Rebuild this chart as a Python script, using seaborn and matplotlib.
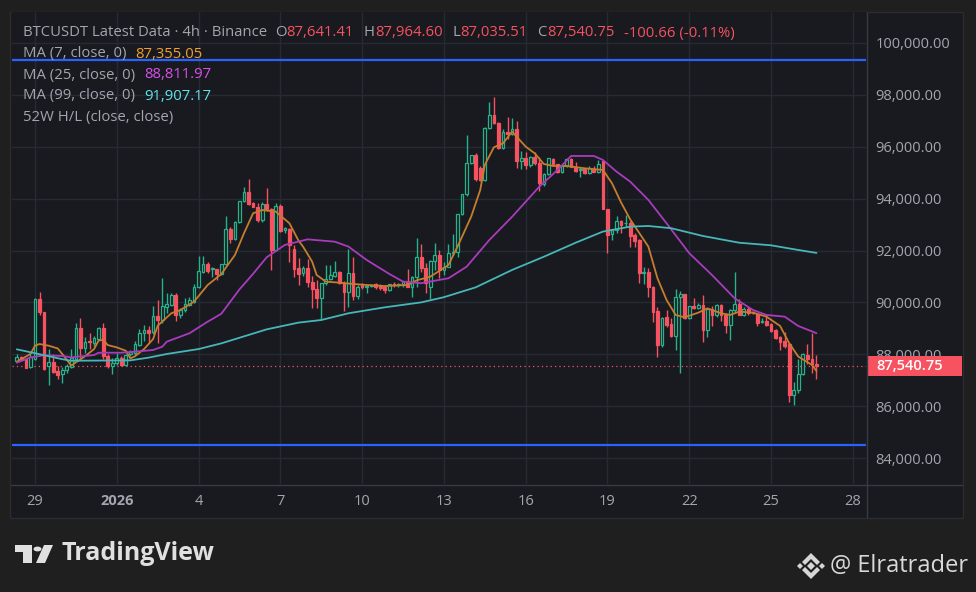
import numpy as np
import pandas as pd
import seaborn as sns
import matplotlib.pyplot as plt
import matplotlib.transforms as mtransforms
from matplotlib.patches import Rectangle, Polygon, Circle
from matplotlib.lines import Line2D

# 4h candles, BTCUSDT, Dec 28 08:00 -> Jan 26 16:00
opens = [87730, 87880, 87815, 87495, 87815, 90130, 89615, 87535, 87690, 87365,
         87240, 87380, 87495, 87815, 89000, 88225, 88510, 88435, 88585, 89000,
         87920, 87535, 87660, 87855, 87595, 87995, 88045, 88370, 88820, 88945,
         88845, 89490, 89320, 89835, 89900, 90285, 89515, 89705, 89900, 90030,
         90580, 91185, 91465, 91285, 91290, 91085, 91465, 92815, 92445, 93085,
         93910, 94245, 93845, 93690, 93175, 93780, 93590, 92020, 93715, 92790,
         92815, 92060, 91315, 91120, 91315, 90775, 90515, 90155, 90735, 90890,
         91015, 91170, 90760, 90415, 91120, 90245, 90660, 90605, 90645, 90695,
         90645, 90605, 90480, 90695, 90660, 90710, 90825, 90610, 90990, 91740,
         91340, 90580, 91610, 91825, 91250, 91380, 91890, 91960, 93410, 94180,
         95360, 95680, 95200, 94720, 96710, 97225, 96930, 95940, 96580, 96490,
         96670, 95465, 95555, 95295, 95620, 95360, 94565, 94935, 95515, 95335,
         95040, 95260, 95530, 95235, 95105, 95145, 94975, 95145, 95040, 95465,
         93615, 92635, 92790, 93150, 93050, 93075, 92600, 92405, 91145, 91185,
         90605, 89670, 88360, 89425, 89170, 88705, 90220, 90310, 89385, 89860,
         89770, 89900, 88935, 89735, 89515, 89900, 89515, 89130, 89710, 89940,
         89515, 89735, 89620, 89555, 89230, 89295, 89170, 88935, 88655, 88525,
         88400, 86430, 86625, 87240, 87975, 87805, 87641.41]
highs = [88000, 87945, 87865, 88075, 90170, 90385, 89615, 88200, 88010, 87535,
         87495, 87625, 88200, 89205, 89385, 88650, 88820, 88690, 89060, 89205,
         88010, 87840, 88045, 87920, 88010, 88150, 88525, 88975, 89125, 89100,
         89870, 90095, 90940, 90350, 90350, 90350, 89770, 90185, 90220, 90710,
         91790, 91790, 91570, 91350, 91300, 91465, 93330, 92895, 93140, 93920,
         94460, 94760, 93860, 93845, 93860, 94425, 93625, 93820, 93780, 92920,
         92855, 92215, 91700, 91400, 91660, 91020, 90865, 90735, 91440, 91440,
         91595, 91210, 90825, 92045, 91740, 90670, 90735, 90670, 90710, 90760,
         90695, 90670, 90710, 90800, 90760, 90825, 91275, 91020, 92470, 92250,
         91505, 91635, 92275, 92020, 91570, 92250, 92640, 93410, 94180, 96455,
         95680, 95770, 95260, 96750, 97740, 97905, 96965, 96670, 97160, 97095,
         97005, 95835, 95810, 95645, 95810, 95620, 94975, 95555, 95555, 95335,
         95295, 95555, 95555, 95425, 95205, 95170, 95260, 95260, 95490, 95490,
         93615, 92815, 93330, 93175, 93370, 93150, 92665, 92430, 91380, 91315,
         90635, 89835, 89425, 89710, 89385, 90505, 90455, 90325, 89860, 90155,
         89990, 90285, 89735, 89860, 89940, 89940, 89580, 89735, 91185, 90120,
         89835, 89810, 89670, 89605, 89385, 89555, 89220, 88960, 88705, 88870,
         88425, 86945, 87805, 88065, 88400, 88810, 87964.60]
lows = [87690, 87740, 87455, 87455, 87775, 89525, 87405, 86815, 87275, 87045,
        86880, 87275, 87455, 87775, 87840, 88045, 88200, 88330, 88560, 87815,
        87455, 87240, 87585, 87560, 87560, 87945, 87970, 88330, 88525, 88420,
        88780, 88450, 89195, 89580, 89860, 89295, 89410, 89645, 89875, 89990,
        90545, 91145, 91120, 90990, 90865, 91045, 91440, 92275, 92405, 93050,
        93885, 93770, 93665, 93110, 93110, 93535, 91250, 91980, 92725, 92665,
        91570, 90965, 90670, 91020, 90605, 89770, 89770, 89320, 90670, 90865,
        90965, 90710, 89680, 89835, 90095, 90120, 90505, 90375, 90580, 90530,
        90480, 90375, 90455, 90580, 90605, 90605, 90580, 90220, 90580, 91185,
        90350, 90120, 91250, 90930, 91055, 91380, 91825, 91760, 93370, 94100,
        95335, 94695, 94695, 94695, 96670, 96880, 95900, 95900, 96285, 96455,
        95170, 95130, 95130, 95235, 95295, 94305, 94485, 94900, 95260, 95000,
        95000, 95235, 95205, 95040, 94845, 94950, 94950, 95015, 95000, 93590,
        91890, 92405, 92690, 92690, 92920, 92150, 92150, 90760, 90695, 90220,
        89260, 87885, 88295, 89040, 88655, 88165, 87265, 89350, 89350, 89735,
        89735, 88485, 88655, 89090, 89450, 89295, 88835, 88550, 89605, 89515,
        89475, 89515, 89555, 89090, 89195, 89090, 88870, 88575, 88165, 88230,
        86175, 86045, 86495, 87200, 87625, 87290, 87035.51]
closes = [87880, 87790, 87480, 87905, 90130, 89615, 87430, 87690, 87330, 87210,
          87405, 87535, 87855, 89000, 88225, 88460, 88485, 88615, 89010, 87920,
          87535, 87660, 87855, 87595, 87970, 88100, 88395, 88820, 88945, 88820,
          89490, 89335, 89860, 89940, 90285, 89515, 89705, 89925, 90095, 90580,
          91210, 91465, 91225, 91300, 91085, 91465, 92815, 92445, 93085, 93910,
          94245, 93795, 93690, 93175, 93780, 93590, 92020, 93715, 92765, 92855,
          92215, 91300, 91095, 91315, 90775, 90505, 90155, 90735, 90890, 91055,
          91185, 90760, 90415, 91120, 90245, 90580, 90605, 90645, 90670, 90580,
          90570, 90480, 90695, 90660, 90710, 90825, 90605, 90990, 91740, 91340,
          90735, 91610, 91825, 91250, 91380, 91890, 91960, 93410, 94180, 95360,
          95680, 94745, 94720, 96710, 97225, 96905, 95940, 96580, 96490, 96670,
          95465, 95555, 95295, 95620, 95360, 94590, 94935, 95555, 95335, 95040,
          95260, 95530, 95235, 95065, 95145, 94975, 95170, 95040, 95335, 93615,
          92600, 92790, 93140, 92985, 93075, 92575, 92380, 91120, 91185, 90605,
          89645, 88360, 89385, 89130, 88705, 90220, 90310, 89385, 89860, 89770,
          89900, 88935, 89735, 89515, 89900, 89515, 89130, 89710, 89940, 89515,
          89735, 89580, 89580, 89220, 89285, 89130, 88910, 88615, 88485, 88335,
          86430, 86625, 87240, 88010, 87805, 87641.41, 87540.75]

# moving averages (candle index, value)
ma7_idx = [0, 1, 3, 4, 5, 7, 9, 10, 12, 13, 15, 17, 18, 19, 20, 22, 24, 25, 26, 28,
           30, 31, 34, 36, 39, 42, 45, 48, 50, 52, 54, 57, 60, 62, 63, 65, 66, 68, 71, 74,
           77, 81, 86, 88, 91, 95, 97, 100, 102, 103, 105, 107, 109, 110, 112, 114, 116, 118, 121, 125,
           129, 131, 133, 135, 139, 141, 143, 145, 147, 150, 152, 155, 157, 159, 162, 165, 168, 170, 172, 175,
           176]
ma7_val = [87715, 87815, 88010, 88330, 88395, 88330, 88225, 88010, 87560, 87690,
           87920, 88200, 88525, 88560, 88355, 88265, 88135, 87840, 87920, 88200,
           88585, 89100, 89580, 89705, 90030, 90670, 91090, 91825, 92665, 93435,
           93560, 93500, 93050, 92380, 92150, 91570, 91055, 90800, 90760, 90710,
           90670, 90630, 90670, 90850, 90990, 91440, 92150, 93305, 94335, 95300,
           95980, 96130, 96580, 96390, 96005, 95745, 95335, 95260, 95260, 95170,
           95105, 94590, 93850, 93200, 92150, 90930, 90095, 89515, 89425, 89605,
           89770, 89580, 89515, 89645, 89605, 89450, 89090, 88425, 87910, 87590,
           87355.05]
ma25_idx = [0, 3, 6, 10, 12, 17, 18, 23, 28, 30, 32, 33, 38, 42, 45, 49, 52, 55, 59, 64,
            70, 73, 77, 82, 85, 89, 95, 99, 104, 109, 115, 119, 122, 127, 129, 132, 135, 139, 143, 148,
            153, 158, 162, 165, 169, 172, 176]
ma25_val = [87675, 87880, 87960, 87935, 87880, 87970, 88060, 88060, 88130, 88165,
            88290, 88485, 88810, 89255, 89560, 90500, 91100, 91740, 92215, 92430,
            92340, 92150, 91635, 91095, 90800, 90740, 90930, 91375, 92405, 93300,
            94460, 95105, 95645, 95645, 95490, 95040, 94655, 93950, 93050, 91895,
            91055, 90155, 89710, 89515, 89450, 89090, 88811.97]
ma99_idx = [0, 4, 10, 12, 25, 29, 33, 40, 45, 55, 62, 67, 73, 81, 89, 94, 101, 109, 116, 123,
            129, 135, 139, 144, 151, 159, 166, 172, 176]
ma99_val = [88190, 88040, 87810, 87750, 87765, 87870, 88010, 88200, 88420, 88960,
            89220, 89320, 89580, 89810, 90000, 90200, 90580, 91250, 91760, 92300,
            92730, 92920, 92945, 92860, 92560, 92300, 92200, 92020, 91907.17]

high_52w = 99345
low_52w = 84495

day_ticks = [4, 22, 40, 58, 76, 94, 112, 130, 148, 166, 184]
day_labels = ["29", "2026", "4", "7", "10", "13", "16", "19", "22", "25", "28"]
price_ticks = list(range(84000, 100001, 2000))

W, H = 976, 592
BG = "#1f1f1f"
PANEL = "#181a20"
GRID = "#262a33"
EDGE = "#363a45"
TXT = "#a3a6af"
UP = "#26b28a"
DOWN = "#f7525f"
MA_COLORS = {"MA7": "#c67d2e", "MA25": "#a83cbc", "MA99": "#47b6b8"}

sns.set_theme(style="dark", rc={"axes.facecolor": PANEL, "figure.facecolor": BG})
plt.rcParams["font.family"] = ["Open Sans", "DejaVu Sans"]

fig = plt.figure(figsize=(W / 100, H / 100), dpi=100)
fig.patch.set_facecolor(BG)


def fx(x):
    return x / W


def fy(y):
    return 1 - y / H


fig.patches.append(Rectangle((fx(10), fy(518)), 953 / W, 506 / H, transform=fig.transFigure,
                             facecolor=PANEL, edgecolor="#2c2c2e", lw=1, zorder=-5))

ax = fig.add_axes([fx(12), fy(484), 854 / W, 472 / H])
ax.set_facecolor(PANEL)

# candles
candles = pd.DataFrame({"open": opens, "high": highs, "low": lows, "close": closes})
candles["idx"] = np.arange(len(candles))
candles["up"] = candles["close"] >= candles["open"]
candles["bottom"] = candles[["open", "close"]].min(axis=1)
candles["body"] = (candles["close"] - candles["open"]).abs().clip(lower=25)
for is_up, color, fill in [(True, UP, PANEL), (False, DOWN, DOWN)]:
    part = candles[candles["up"] == is_up]
    ax.vlines(part["idx"], part["low"], part["high"], color=color, lw=1, zorder=3)
    ax.bar(part["idx"], part["body"], bottom=part["bottom"], width=0.6,
           facecolor=fill, edgecolor=color, lw=0.9, zorder=4)

# moving averages
ma_long = pd.concat([
    pd.DataFrame({"idx": ma7_idx, "value": ma7_val, "ma": "MA7"}),
    pd.DataFrame({"idx": ma25_idx, "value": ma25_val, "ma": "MA25"}),
    pd.DataFrame({"idx": ma99_idx, "value": ma99_val, "ma": "MA99"}),
])
sns.lineplot(data=ma_long, x="idx", y="value", hue="ma", palette=MA_COLORS,
             estimator=None, sort=True, lw=1.3, legend=False, ax=ax, zorder=5)

# 52 week high / low and last price line
ax.axhline(high_52w, color="#2962ff", lw=1.6, zorder=2)
ax.axhline(low_52w, color="#2962ff", lw=1.6, zorder=2)
ax.axhline(closes[-1], color=DOWN, lw=0.9, ls=(0, (1, 2.5)), zorder=2)

ax.set_xlim(-1.06, 186.9)
ax.set_ylim(82998, 101195)
ax.set_xlabel("")
ax.set_ylabel("")
ax.yaxis.tick_right()
ax.set_yticks(price_ticks)
ax.set_yticklabels([f"{v:,.2f}" for v in price_ticks])
ax.set_xticks(day_ticks)
ax.set_xticklabels(day_labels)
ax.get_xticklabels()[1].set_fontweight("bold")
ax.tick_params(axis="both", length=0, labelsize=10.5, labelcolor=TXT)
ax.tick_params(axis="y", pad=7)
ax.tick_params(axis="x", pad=7)
ax.grid(True, color=GRID, lw=1)
for s in ax.spines.values():
    s.set_visible(False)

fig.add_artist(Line2D([fx(11), fx(962)], [fy(484.5)] * 2, transform=fig.transFigure, color=EDGE, lw=1))
fig.add_artist(Line2D([fx(866.5)] * 2, [fy(13), fy(517)], transform=fig.transFigure, color=EDGE, lw=1))

# last price tag
trans = mtransforms.blended_transform_factory(ax.transAxes, ax.transData)
ax.add_patch(Rectangle((1 + 2 / 854, closes[-1] - 390), 94 / 854, 780, transform=trans,
                       facecolor=DOWN, edgecolor="none", clip_on=False, zorder=10))
ax.text(1 + 10 / 854, closes[-1], f"{closes[-1]:,.2f}", transform=trans, ha="left", va="center",
        color="white", fontsize=10.5, fontweight="semibold", clip_on=False, zorder=11)

# legend text block
renderer = fig.canvas.get_renderer()
FS = 10.7


def chain(pieces, x0, y):
    # each piece: (text, colour, gap in px before it)
    x = x0
    for s, c, gap in pieces:
        x += gap
        t = fig.text(fx(x), fy(y), s, color=c, fontsize=FS, va="center", ha="left")
        x = t.get_window_extent(renderer).x1


change = closes[-1] - closes[-2]
pct = change / closes[-2] * 100
chain([("BTCUSDT Latest Data · 4h · Binance", TXT, 0),
       ("O", TXT, 8), (f"{opens[-1]:,.2f}", DOWN, 0),
       ("H", TXT, 10), (f"{highs[-1]:,.2f}", DOWN, 0),
       ("L", TXT, 10), (f"{lows[-1]:,.2f}", DOWN, 0),
       ("C", TXT, 10), (f"{closes[-1]:,.2f}", DOWN, 0),
       (f"{change:,.2f} ({pct:.2f}%)", DOWN, 10)], 23, 33)

ma_rows = [("MA (7, close, 0)", ma7_val[-1], "#f5a02a", 54),
           ("MA (25, close, 0)", ma25_val[-1], "#d950ea", 75),
           ("MA (99, close, 0)", ma99_val[-1], "#62e4ea", 96)]
for label, val, col, y in ma_rows:
    chain([(label, TXT, 0), (f"{val:,.2f}", col, 9)], 23, y)
chain([("52W H/L (close, close)", TXT, 0)], 23, 117)

# TradingView branding
LOGO = "#e0e0e0"
tf = fig.transFigure
fig.add_artist(Polygon([(fx(15), fy(545)), (fx(31.5), fy(545)), (fx(31.5), fy(563)),
                        (fx(23), fy(563)), (fx(23), fy(552)), (fx(15), fy(552))],
                       closed=True, transform=tf, facecolor=LOGO, edgecolor="none"))
fig.add_artist(Circle((fx(37.5), fy(549)), 4 / W, transform=tf, facecolor=LOGO, edgecolor="none"))
fig.add_artist(Polygon([(fx(44), fy(545)), (fx(53), fy(545)), (fx(45), fy(563)), (fx(36), fy(563))],
                       closed=True, transform=tf, facecolor=LOGO, edgecolor="none"))
fig.text(fx(61), fy(554), "TradingView", color=LOGO, fontsize=18, fontweight="bold",
         va="center", ha="left")


# Binance style mark + handle
def diamond(cx, cy, r):
    return [(fx(cx - r), fy(cy)), (fx(cx), fy(cy - r)), (fx(cx + r), fy(cy)), (fx(cx), fy(cy + r))]


for cx, cy, r in [(811, 566, 4), (800, 566, 3), (822, 566, 3)]:
    fig.add_artist(Polygon(diamond(cx, cy, r), closed=True, transform=tf, facecolor="#d6d6d6", edgecolor="none"))
for sgn in (1, -1):
    pts = [(811, 566 - sgn * 13), (820, 566 - sgn * 4), (817, 566 - sgn * 1), (811, 566 - sgn * 7),
           (805, 566 - sgn * 1), (802, 566 - sgn * 4)]
    fig.add_artist(Polygon([(fx(a), fy(b)) for a, b in pts], closed=True, transform=tf,
                           facecolor="#d6d6d6", edgecolor="none"))
fig.text(fx(830), fy(566), "@ Elratrader", color="#d9d9d9", fontsize=17, va="center", ha="left")

fig.savefig("out.png", dpi=100, facecolor=BG)
